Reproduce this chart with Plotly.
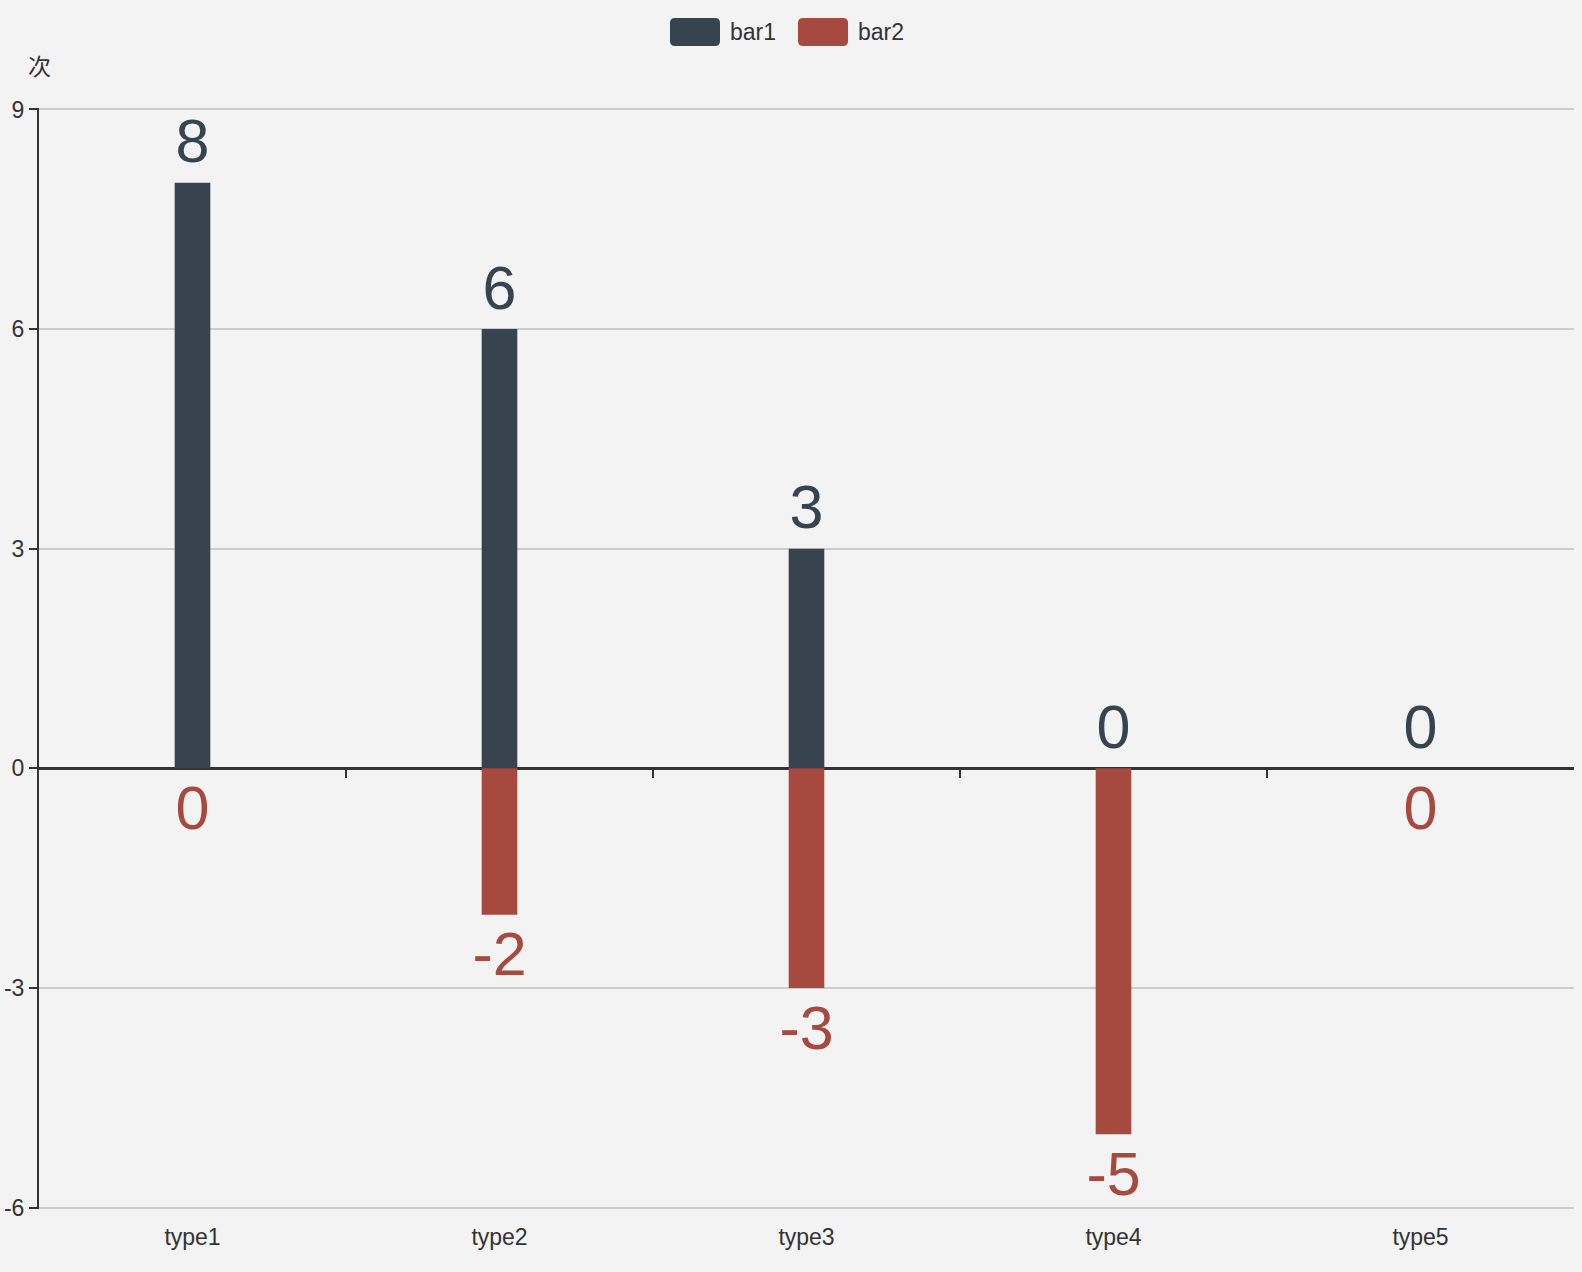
"""
Two bar series per type, positive and negative, with value labels.
"""

import plotly.graph_objects as go

categories = ['type1', 'type2', 'type3', 'type4', 'type5']
series_names = ['bar1', 'bar2']
bar1_values = [8, 6, 3, 0, 0]
bar2_values = [0, -2, -3, -5, 0]
y_ticks = [-6, -3, 0, 3, 6, 9]
y_tick_labels = ['-6', '-3', '0', '3', '6', '9']

BAR1_COLOR = '#37444f'
BAR2_COLOR = '#a64a3f'
TEXT_COLOR = '#333333'
BG_COLOR = '#f3f3f3'
FONT = 'Liberation Sans, Arial, sans-serif'

W, H = 1582, 1272
M_L, M_R, M_T, M_B = 39, 8, 108, 63
PLOT_W = W - M_L - M_R
PLOT_H = H - M_T - M_B


def px_x(x):
    """Pixel x (from left of page) to paper fraction."""
    return (x - M_L) / PLOT_W


def px_y(y):
    """Pixel y (from top of page) to paper fraction."""
    return (H - M_B - y) / PLOT_H


def rounded_rect(x0, y0, x1, y1, r=5):
    """SVG path of a rounded rectangle, pixel input, paper output."""
    pts = [
        ('M', x0 + r, y0), ('L', x1 - r, y0), ('Q', x1, y0, x1, y0 + r),
        ('L', x1, y1 - r), ('Q', x1, y1, x1 - r, y1), ('L', x0 + r, y1),
        ('Q', x0, y1, x0, y1 - r), ('L', x0, y0 + r), ('Q', x0, y0, x0 + r, y0),
    ]
    parts = []
    for p in pts:
        coords = p[1:]
        conv = []
        for i in range(0, len(coords), 2):
            conv.append(f"{px_x(coords[i]):.5f},{px_y(coords[i + 1]):.5f}")
        parts.append(p[0] + ' '.join(conv))
    return ' '.join(parts) + ' Z'


# category slots as numbers, for the overlay axis crossing at zero
slots = list(range(len(categories)))
inner_boundaries = [i + 0.5 for i in slots[:-1]]

fig = go.Figure()

# bars, both series share the same slot in each category
for name, values, color in zip(series_names, [bar1_values, bar2_values],
                               [BAR1_COLOR, BAR2_COLOR]):
    fig.add_trace(go.Bar(
        x=categories, y=values, name=name,
        marker={"color": color, "line_width": 0},
        width=0.116, hoverinfo='x+y', showlegend=False,
    ))

# value labels (transparent markers only set the gap to the bar end)
fig.add_trace(go.Scatter(
    x=slots, y=bar1_values, xaxis='x2',
    mode='markers+text', text=[str(v) for v in bar1_values],
    textposition='top center',
    textfont={"size": 61, "color": BAR1_COLOR, "family": FONT},
    marker={"size": 6.4, "color": 'rgba(0,0,0,0)'},
    showlegend=False, hoverinfo='skip',
))
fig.add_trace(go.Scatter(
    x=slots, y=bar2_values, xaxis='x2',
    mode='markers+text', text=[str(v) for v in bar2_values],
    textposition='bottom center',
    textfont={"size": 61, "color": BAR2_COLOR, "family": FONT},
    marker={"size": 22.4, "color": 'rgba(0,0,0,0)'},
    showlegend=False, hoverinfo='skip',
))

# legend drawn as rounded swatches + labels at the top centre
shapes = []
annotations = []
legend_x = 670
for name, color in zip(series_names, [BAR1_COLOR, BAR2_COLOR]):
    shapes.append({
        "type": 'path', "xref": 'paper', "yref": 'paper',
        "path": rounded_rect(legend_x, 18, legend_x + 50, 46),
        "fillcolor": color, "line": {"width": 0}, "layer": 'above',
    })
    annotations.append({
        "text": name, "xref": 'paper', "yref": 'paper',
        "x": px_x(legend_x + 58), "y": px_y(32),
        "xanchor": 'left', "yanchor": 'middle', "showarrow": False,
        "font": {"size": 23, "color": TEXT_COLOR, "family": FONT},
    })
    legend_x += 128

annotations.append({
    "text": '次', "xref": 'paper', "yref": 'paper',
    "x": px_x(39), "y": px_y(65),
    "xanchor": 'center', "yanchor": 'middle', "showarrow": False,
    "font": {"size": 23, "color": TEXT_COLOR,
             "family": 'Noto Sans CJK SC, sans-serif'},
})

fig.update_layout(
    width=W, height=H,
    barmode='overlay',
    paper_bgcolor=BG_COLOR, plot_bgcolor=BG_COLOR,
    font={"family": FONT, "size": 23, "color": TEXT_COLOR},
    margin={"l": M_L, "r": M_R, "t": M_T, "b": M_B, "autoexpand": False},
    showlegend=False,
    xaxis={
        "type": 'category', "range": [-0.5, 4.5],
        "showgrid": False, "showline": False, "ticks": '',
        "tickfont": {"size": 23, "color": TEXT_COLOR},
        "ticklabelstandoff": 12, "automargin": False,
    },
    # axis line crossing at y = 0, with ticks between the categories
    xaxis2={
        "type": 'linear', "overlaying": 'x', "anchor": 'free',
        "position": 0.4, "range": [-0.5, 4.5],
        "tickmode": 'array', "tickvals": inner_boundaries,
        "showgrid": False, "zeroline": False,
        "showline": True, "linecolor": TEXT_COLOR,
        "linewidth": 2, "ticks": 'outside',
        "ticklen": 8, "tickwidth": 2, "tickcolor": TEXT_COLOR,
        "showticklabels": False, "layer": 'below traces',
        "automargin": False,
    },
    yaxis={
        "range": [-6.02, 9.02], "tickvals": y_ticks,
        "ticktext": y_tick_labels,
        "showgrid": True, "gridcolor": '#cccccc', "gridwidth": 2,
        "zeroline": True, "zerolinecolor": TEXT_COLOR, "zerolinewidth": 2,
        "showline": True, "linecolor": TEXT_COLOR, "linewidth": 2,
        "ticks": 'outside', "ticklen": 8, "tickwidth": 2,
        "tickcolor": TEXT_COLOR, "layer": 'below traces',
        "tickfont": {"size": 23, "color": TEXT_COLOR},
        "automargin": False,
    },
    shapes=shapes,
    annotations=annotations,
)

fig.write_html(
    "out.html",
    config={"displayModeBar": False},
    post_script="document.body.style.margin='0';",
)
